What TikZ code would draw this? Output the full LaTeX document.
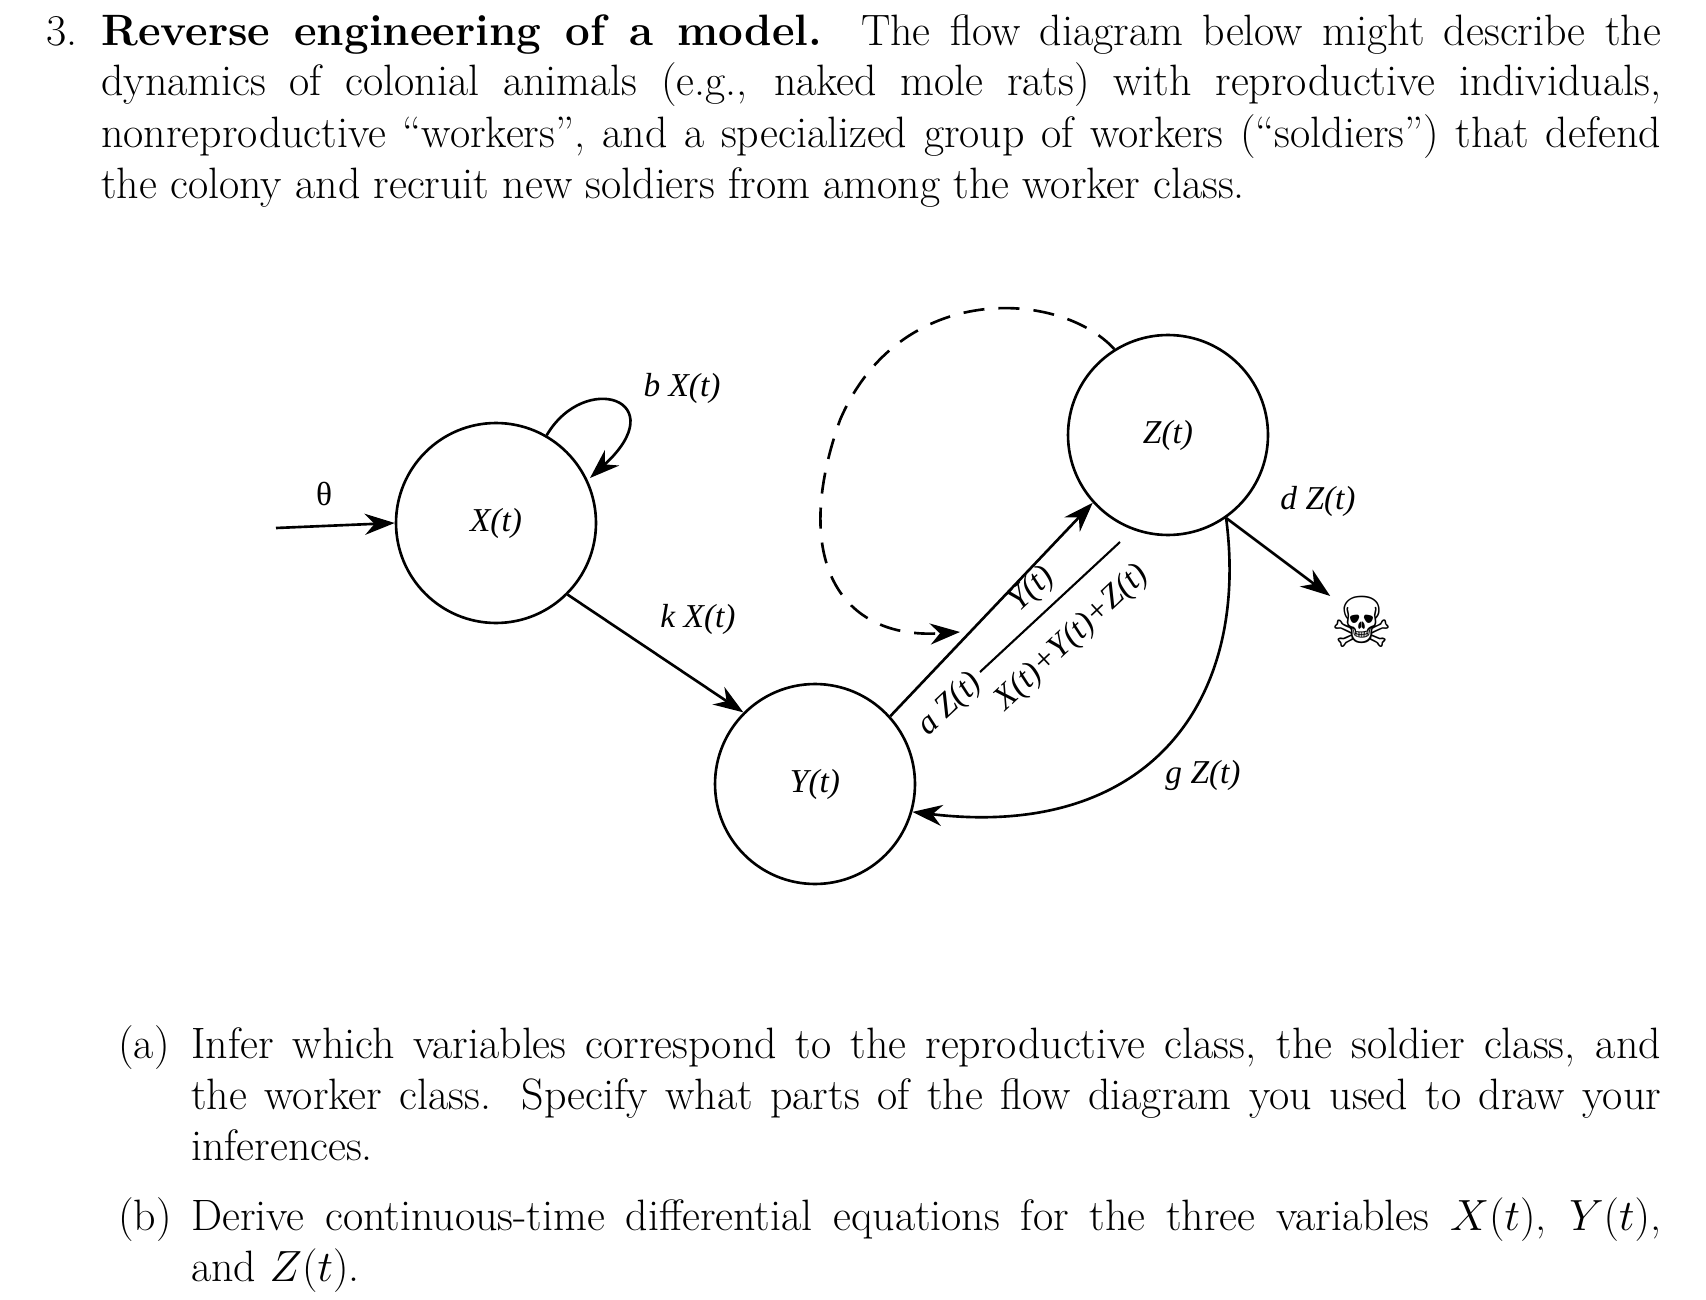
\documentclass[tikz,border=0pt]{standalone}
\usepackage{fontspec}
\newfontfamily\labfont{Liberation Serif}
\newfontfamily\dejavufont{DejaVu Sans}
\usetikzlibrary{arrows.meta}
\begin{document}
\begin{tikzpicture}[x=0.02cm,y=-0.02cm,
  st/.style={circle,draw,line width=1.5pt,minimum size=4cm},
  lbl/.style={font=\labfont\fontsize{19}{22}\selectfont},
  ln/.style={anchor=base west,inner sep=0pt,font=\fontsize{25}{29}\selectfont},
  ar/.style={line width=1.5pt,-{Stealth[length=17pt,width=12pt]}}]
\useasboundingbox (0,0) rectangle (1706,1300);
% text
\node[ln] (t0) at (46,46) {3.};
\node[ln] (t1) at (101,46) {\makebox[31.2cm][s]{\textbf{Reverse engineering of a model.}\ \ The flow diagram below might describe the}};
\node[ln] (t2) at (101,96) {\makebox[31.2cm][s]{dynamics of colonial animals (e.g., naked mole rats) with reproductive individuals,}};
\node[ln] (t3) at (101,148) {\makebox[31.2cm][s]{nonreproductive ``workers'', and a specialized group of workers (``soldiers'') that defend}};
\node[ln] (t4) at (101,199) {the colony and recruit new soldiers from among the worker class.};
\node[ln] (a0) at (118,1058) {(a)};
\node[ln] (a1) at (191,1058) {\makebox[29.4cm][s]{Infer which variables correspond to the reproductive class, the soldier class, and}};
\node[ln] (a2) at (191,1109) {\makebox[29.4cm][s]{the worker class. Specify what parts of the flow diagram you used to draw your}};
\node[ln] (a3) at (191,1160) {inferences.};
\node[ln] (b0) at (118,1230) {(b)};
\node[ln] (b1) at (191,1230) {\makebox[29.4cm][s]{Derive continuous-time differential equations for the three variables $X(t)$, $Y(t)$,}};
\node[ln] (b2) at (191,1281) {and $Z(t)$.};
% states
\node[st] (X) at (496,523) {};
\node[st] (Y) at (815,784) {};
\node[st] (Z) at (1168,435) {};
\node[lbl] at (496,523) {\itshape X(t)};
\node[lbl] at (815,784) {\itshape Y(t)};
\node[lbl] at (1168,435) {\itshape Z(t)};
% inflow
\coordinate (in) at (276,528);
\draw[ar] (in) -- (X.west);
\node[lbl] (th) at (324,494) {θ};
% self loop
\draw[ar] (X.60) .. controls (585,370) and (675,400) .. (590,478);
\node[lbl] at (682,388) {\itshape b X(t)};
% X->Y
\draw[ar] (X.-45) -- (Y.135);
\node[lbl] at (698,619) {\itshape k X(t)};
% Y->Z
\draw[ar] (Y.42) -- (Z.222);
\draw[line width=1.5pt,dash pattern=on 12pt off 8pt,-{Stealth[length=17pt,width=12pt]}]
  (Z.122) .. controls (1060,290) and (900,280) .. (840,420)
  .. controls (790,560) and (840,640) .. (960,632);
\draw[line width=1.2pt] (980,672) -- (1120,542);
\node[lbl,rotate=43] at (1032,590) {\itshape Y(t)};
\node[lbl,rotate=43] at (1072,638) {\itshape X(t)+Y(t)+Z(t)};
\node[lbl,rotate=43,anchor=east] at (982,675) {\itshape a Z(t)};
% Z->Y
\coordinate (zo) at (Z.-55);
\draw[ar] (zo) .. controls (1250,700) and (1150,840) .. (Y.-16);
\node[lbl] at (1203,775) {\itshape g Z(t)};
% death
\node[font=\dejavufont\fontsize{40}{40}\selectfont,inner sep=0pt] (D) at (1362,622) {☠};
\draw[ar] (zo) -- (D.north west);
\node[lbl] at (1318,501) {\itshape d Z(t)};
\end{tikzpicture}
\end{document}
